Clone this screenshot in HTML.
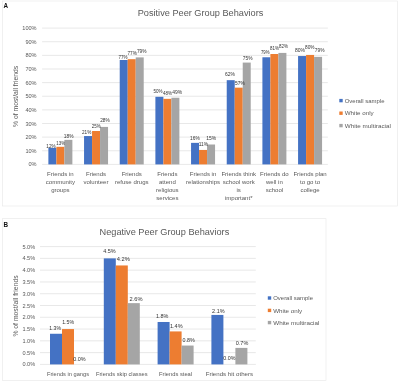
<!DOCTYPE html>
<html><head><meta charset="utf-8"><title>Peer Group Behaviors</title>
<style>
html,body{margin:0;padding:0;background:#fff;}
svg{display:block;}
text{font-family:"Liberation Sans",sans-serif;fill:#595959;}
.c{font-size:6.05px;}
.k{font-size:5.6px;}
.lg{font-size:6.25px;}
.da{font-size:5.5px;fill:#333333;}
.db{font-size:5.8px;fill:#333333;}
.yt{font-size:6.8px;}
.ti{font-size:9.2px;}
.s{font-size:4.6px;}
.pl{font-size:6.3px;font-weight:bold;fill:#111;}
</style></head><body>
<svg width="400" height="384" viewBox="0 0 400 384">
<rect width="400" height="384" fill="#fff"/>

<rect x="2.5" y="1" width="395.0" height="205" fill="#fff" stroke="#E6E6E6" stroke-width="0.6"/>
<line x1="42.1" x2="327.8" y1="164.40" y2="164.40" stroke="#D9D9D9" stroke-width="0.6"/>
<text class="k" x="36.6" y="166.45" text-anchor="end">0%</text>
<line x1="42.1" x2="327.8" y1="150.77" y2="150.77" stroke="#D9D9D9" stroke-width="0.6"/>
<text class="k" x="36.6" y="152.82" text-anchor="end">10%</text>
<line x1="42.1" x2="327.8" y1="137.14" y2="137.14" stroke="#D9D9D9" stroke-width="0.6"/>
<text class="k" x="36.6" y="139.19" text-anchor="end">20%</text>
<line x1="42.1" x2="327.8" y1="123.51" y2="123.51" stroke="#D9D9D9" stroke-width="0.6"/>
<text class="k" x="36.6" y="125.56" text-anchor="end">30%</text>
<line x1="42.1" x2="327.8" y1="109.88" y2="109.88" stroke="#D9D9D9" stroke-width="0.6"/>
<text class="k" x="36.6" y="111.93" text-anchor="end">40%</text>
<line x1="42.1" x2="327.8" y1="96.25" y2="96.25" stroke="#D9D9D9" stroke-width="0.6"/>
<text class="k" x="36.6" y="98.30" text-anchor="end">50%</text>
<line x1="42.1" x2="327.8" y1="82.62" y2="82.62" stroke="#D9D9D9" stroke-width="0.6"/>
<text class="k" x="36.6" y="84.67" text-anchor="end">60%</text>
<line x1="42.1" x2="327.8" y1="68.99" y2="68.99" stroke="#D9D9D9" stroke-width="0.6"/>
<text class="k" x="36.6" y="71.04" text-anchor="end">70%</text>
<line x1="42.1" x2="327.8" y1="55.36" y2="55.36" stroke="#D9D9D9" stroke-width="0.6"/>
<text class="k" x="36.6" y="57.41" text-anchor="end">80%</text>
<line x1="42.1" x2="327.8" y1="41.73" y2="41.73" stroke="#D9D9D9" stroke-width="0.6"/>
<text class="k" x="36.6" y="43.78" text-anchor="end">90%</text>
<line x1="42.1" x2="327.8" y1="28.10" y2="28.10" stroke="#D9D9D9" stroke-width="0.6"/>
<text class="k" x="36.6" y="30.15" text-anchor="end">100%</text>
<rect x="48.38" y="147.91" width="8" height="16.49" fill="#4472C4"/>
<rect x="56.38" y="146.82" width="8" height="17.58" fill="#ED7D31"/>
<rect x="64.38" y="139.87" width="8" height="24.53" fill="#A5A5A5"/>
<text class="c" x="60.38" y="175.50" text-anchor="middle">Friends in</text>
<text class="c" x="60.38" y="183.58" text-anchor="middle">community</text>
<text class="c" x="60.38" y="191.66" text-anchor="middle">groups</text>
<rect x="84.05" y="136.05" width="8" height="28.35" fill="#4472C4"/>
<rect x="92.05" y="131.01" width="8" height="33.39" fill="#ED7D31"/>
<rect x="100.05" y="126.92" width="8" height="37.48" fill="#A5A5A5"/>
<text class="c" x="96.05" y="175.50" text-anchor="middle">Friends</text>
<text class="c" x="96.05" y="183.58" text-anchor="middle">volunteer</text>
<rect x="119.72" y="59.99" width="8" height="104.41" fill="#4472C4"/>
<rect x="127.72" y="59.18" width="8" height="105.22" fill="#ED7D31"/>
<rect x="135.72" y="57.40" width="8" height="107.00" fill="#A5A5A5"/>
<text class="c" x="131.72" y="175.50" text-anchor="middle">Friends</text>
<text class="c" x="131.72" y="183.58" text-anchor="middle">refuse drugs</text>
<rect x="155.39" y="96.80" width="8" height="67.60" fill="#4472C4"/>
<rect x="163.39" y="98.84" width="8" height="65.56" fill="#ED7D31"/>
<rect x="171.39" y="97.75" width="8" height="66.65" fill="#A5A5A5"/>
<text class="c" x="167.39" y="175.50" text-anchor="middle">Friends</text>
<text class="c" x="167.39" y="183.58" text-anchor="middle">attend</text>
<text class="c" x="167.39" y="191.66" text-anchor="middle">religious</text>
<text class="c" x="167.39" y="199.74" text-anchor="middle">services</text>
<rect x="191.06" y="142.86" width="8" height="21.54" fill="#4472C4"/>
<rect x="199.06" y="149.95" width="8" height="14.45" fill="#ED7D31"/>
<rect x="207.06" y="144.50" width="8" height="19.90" fill="#A5A5A5"/>
<text class="c" x="203.06" y="175.50" text-anchor="middle">Friends in</text>
<text class="c" x="203.06" y="183.58" text-anchor="middle">relationships</text>
<rect x="226.73" y="80.17" width="8" height="84.23" fill="#4472C4"/>
<rect x="234.73" y="87.66" width="8" height="76.74" fill="#ED7D31"/>
<rect x="242.73" y="62.58" width="8" height="101.82" fill="#A5A5A5"/>
<text class="c" x="238.73" y="175.50" text-anchor="middle">Friends think</text>
<text class="c" x="238.73" y="183.58" text-anchor="middle">school work</text>
<text class="c" x="238.73" y="191.66" text-anchor="middle">is</text>
<text class="c" x="238.73" y="199.74" text-anchor="middle">important*</text>
<rect x="262.40" y="57.27" width="8" height="107.13" fill="#4472C4"/>
<rect x="270.40" y="54.00" width="8" height="110.40" fill="#ED7D31"/>
<rect x="278.40" y="52.91" width="8" height="111.49" fill="#A5A5A5"/>
<text class="c" x="274.40" y="175.50" text-anchor="middle">Friends do</text>
<text class="c" x="274.40" y="183.58" text-anchor="middle">well in</text>
<text class="c" x="274.40" y="191.66" text-anchor="middle">school</text>
<rect x="298.07" y="56.04" width="8" height="108.36" fill="#4472C4"/>
<rect x="306.07" y="54.95" width="8" height="109.45" fill="#ED7D31"/>
<rect x="314.07" y="56.86" width="8" height="107.54" fill="#A5A5A5"/>
<text class="c" x="310.07" y="175.50" text-anchor="middle">Friends plan</text>
<text class="c" x="310.07" y="183.58" text-anchor="middle">to go to</text>
<text class="c" x="310.07" y="191.66" text-anchor="middle">college</text>
<text class="da" x="46.30" y="147.70" textLength="9.30" lengthAdjust="spacingAndGlyphs">12%</text>
<text class="da" x="56.30" y="145.00" textLength="8.70" lengthAdjust="spacingAndGlyphs">13%</text>
<text class="da" x="63.80" y="138.10" textLength="9.70" lengthAdjust="spacingAndGlyphs">18%</text>
<text class="da" x="82.00" y="133.70" textLength="9.30" lengthAdjust="spacingAndGlyphs">21%</text>
<text class="da" x="91.70" y="128.10" textLength="8.90" lengthAdjust="spacingAndGlyphs">25%</text>
<text class="da" x="100.20" y="121.70" textLength="9.50" lengthAdjust="spacingAndGlyphs">28%</text>
<text class="da" x="118.50" y="59.10" textLength="9.00" lengthAdjust="spacingAndGlyphs">77%</text>
<text class="da" x="127.50" y="55.40" textLength="9.40" lengthAdjust="spacingAndGlyphs">77%</text>
<text class="da" x="136.90" y="52.90" textLength="9.60" lengthAdjust="spacingAndGlyphs">79%</text>
<text class="da" x="153.50" y="93.20" textLength="9.00" lengthAdjust="spacingAndGlyphs">50%</text>
<text class="da s" x="162.90" y="94.50" textLength="9.00" lengthAdjust="spacingAndGlyphs">48%</text>
<text class="da" x="172.30" y="93.50" textLength="9.90" lengthAdjust="spacingAndGlyphs">49%</text>
<text class="da" x="190.00" y="139.50" textLength="9.70" lengthAdjust="spacingAndGlyphs">16%</text>
<text class="da" x="198.80" y="146.40" textLength="9.30" lengthAdjust="spacingAndGlyphs">11%</text>
<text class="da" x="206.30" y="140.10" textLength="9.90" lengthAdjust="spacingAndGlyphs">15%</text>
<text class="da" x="225.00" y="75.90" textLength="10.00" lengthAdjust="spacingAndGlyphs">62%</text>
<text class="da" x="235.00" y="84.60" textLength="9.70" lengthAdjust="spacingAndGlyphs">57%</text>
<text class="da" x="242.80" y="59.90" textLength="9.70" lengthAdjust="spacingAndGlyphs">75%</text>
<text class="da" x="261.00" y="54.40" textLength="8.50" lengthAdjust="spacingAndGlyphs">79%</text>
<text class="da" x="270.00" y="49.60" textLength="9.00" lengthAdjust="spacingAndGlyphs">81%</text>
<text class="da" x="279.00" y="47.80" textLength="9.00" lengthAdjust="spacingAndGlyphs">82%</text>
<text class="da" x="295.00" y="52.00" textLength="10.00" lengthAdjust="spacingAndGlyphs">80%</text>
<text class="da" x="305.00" y="48.90" textLength="9.50" lengthAdjust="spacingAndGlyphs">80%</text>
<text class="da" x="314.80" y="52.00" textLength="9.70" lengthAdjust="spacingAndGlyphs">79%</text>
<text class="ti" x="200.5" y="16" text-anchor="middle">Positive Peer Group Behaviors</text>
<rect x="339.3" y="98.90" width="3.4" height="3.4" fill="#4472C4"/>
<text class="lg" x="344.7" y="102.80" textLength="39.8" lengthAdjust="spacingAndGlyphs">Overall sample</text>
<rect x="339.3" y="111.50" width="3.4" height="3.4" fill="#ED7D31"/>
<text class="lg" x="344.7" y="115.40" textLength="29" lengthAdjust="spacingAndGlyphs">White only</text>
<rect x="339.3" y="123.90" width="3.4" height="3.4" fill="#A5A5A5"/>
<text class="lg" x="344.7" y="127.80" textLength="46.2" lengthAdjust="spacingAndGlyphs">White multiracial</text>
<text class="yt" transform="translate(18.3,96.4) rotate(-90)" text-anchor="middle">% of most/all friends</text>
<text class="pl" x="3.5" y="7.7">A</text>
<rect x="2.5" y="218.7" width="323.5" height="161.90000000000003" fill="#fff" stroke="#E6E6E6" stroke-width="0.6"/>
<line x1="40" x2="255.8" y1="364.40" y2="364.40" stroke="#D9D9D9" stroke-width="0.6"/>
<text class="k" x="35.2" y="366.45" text-anchor="end">0.0%</text>
<line x1="40" x2="255.8" y1="352.62" y2="352.62" stroke="#D9D9D9" stroke-width="0.6"/>
<text class="k" x="35.2" y="354.67" text-anchor="end">0.5%</text>
<line x1="40" x2="255.8" y1="340.84" y2="340.84" stroke="#D9D9D9" stroke-width="0.6"/>
<text class="k" x="35.2" y="342.89" text-anchor="end">1.0%</text>
<line x1="40" x2="255.8" y1="329.06" y2="329.06" stroke="#D9D9D9" stroke-width="0.6"/>
<text class="k" x="35.2" y="331.11" text-anchor="end">1.5%</text>
<line x1="40" x2="255.8" y1="317.28" y2="317.28" stroke="#D9D9D9" stroke-width="0.6"/>
<text class="k" x="35.2" y="319.33" text-anchor="end">2.0%</text>
<line x1="40" x2="255.8" y1="305.50" y2="305.50" stroke="#D9D9D9" stroke-width="0.6"/>
<text class="k" x="35.2" y="307.55" text-anchor="end">2.5%</text>
<line x1="40" x2="255.8" y1="293.72" y2="293.72" stroke="#D9D9D9" stroke-width="0.6"/>
<text class="k" x="35.2" y="295.77" text-anchor="end">3.0%</text>
<line x1="40" x2="255.8" y1="281.94" y2="281.94" stroke="#D9D9D9" stroke-width="0.6"/>
<text class="k" x="35.2" y="283.99" text-anchor="end">3.5%</text>
<line x1="40" x2="255.8" y1="270.16" y2="270.16" stroke="#D9D9D9" stroke-width="0.6"/>
<text class="k" x="35.2" y="272.21" text-anchor="end">4.0%</text>
<line x1="40" x2="255.8" y1="258.38" y2="258.38" stroke="#D9D9D9" stroke-width="0.6"/>
<text class="k" x="35.2" y="260.43" text-anchor="end">4.5%</text>
<line x1="40" x2="255.8" y1="246.60" y2="246.60" stroke="#D9D9D9" stroke-width="0.6"/>
<text class="k" x="35.2" y="248.65" text-anchor="end">5.0%</text>
<rect x="50.00" y="333.77" width="12" height="30.63" fill="#4472C4"/>
<rect x="62.00" y="329.06" width="12" height="35.34" fill="#ED7D31"/>
<text class="c" x="47.00" y="376.00" textLength="42" lengthAdjust="spacingAndGlyphs">Friends in gangs</text>
<rect x="103.80" y="258.38" width="12" height="106.02" fill="#4472C4"/>
<rect x="115.80" y="265.45" width="12" height="98.95" fill="#ED7D31"/>
<rect x="127.80" y="303.14" width="12" height="61.26" fill="#A5A5A5"/>
<text class="c" x="95.95" y="376.00" textLength="51.7" lengthAdjust="spacingAndGlyphs">Friends skip classes</text>
<rect x="157.60" y="321.99" width="12" height="42.41" fill="#4472C4"/>
<rect x="169.60" y="331.42" width="12" height="32.98" fill="#ED7D31"/>
<rect x="181.60" y="345.55" width="12" height="18.85" fill="#A5A5A5"/>
<text class="c" x="159.10" y="376.00" textLength="33" lengthAdjust="spacingAndGlyphs">Friends steal</text>
<rect x="211.40" y="314.92" width="12" height="49.48" fill="#4472C4"/>
<rect x="235.40" y="347.91" width="12" height="16.49" fill="#A5A5A5"/>
<text class="c" x="205.70" y="376.00" textLength="47.4" lengthAdjust="spacingAndGlyphs">Friends hit others</text>
<text class="db" x="49.30" y="330.30" textLength="11.70" lengthAdjust="spacingAndGlyphs">1.3%</text>
<text class="db" x="62.20" y="324.30" textLength="12.00" lengthAdjust="spacingAndGlyphs">1.5%</text>
<text class="db" x="73.30" y="360.50" textLength="12.40" lengthAdjust="spacingAndGlyphs">0.0%</text>
<text class="db" x="103.20" y="253.30" textLength="12.50" lengthAdjust="spacingAndGlyphs">4.5%</text>
<text class="db" x="116.70" y="261.20" textLength="13.10" lengthAdjust="spacingAndGlyphs">4.2%</text>
<text class="db" x="129.50" y="300.80" textLength="13.00" lengthAdjust="spacingAndGlyphs">2.6%</text>
<text class="db" x="156.00" y="317.50" textLength="12.40" lengthAdjust="spacingAndGlyphs">1.8%</text>
<text class="db" x="170.00" y="328.30" textLength="12.60" lengthAdjust="spacingAndGlyphs">1.4%</text>
<text class="db" x="182.60" y="341.80" textLength="12.20" lengthAdjust="spacingAndGlyphs">0.8%</text>
<text class="db" x="212.10" y="312.90" textLength="12.50" lengthAdjust="spacingAndGlyphs">2.1%</text>
<text class="db" x="223.30" y="360.00" textLength="12.10" lengthAdjust="spacingAndGlyphs">0.0%</text>
<text class="db" x="235.80" y="345.40" textLength="12.50" lengthAdjust="spacingAndGlyphs">0.7%</text>
<text class="ti" x="164.4" y="235.2" text-anchor="middle">Negative Peer Group Behaviors</text>
<rect x="267.8" y="296.30" width="3.4" height="3.4" fill="#4472C4"/>
<text class="lg" x="273.2" y="300.20" textLength="39.8" lengthAdjust="spacingAndGlyphs">Overall sample</text>
<rect x="267.8" y="308.70" width="3.4" height="3.4" fill="#ED7D31"/>
<text class="lg" x="273.2" y="312.60" textLength="29" lengthAdjust="spacingAndGlyphs">White only</text>
<rect x="267.8" y="320.90" width="3.4" height="3.4" fill="#A5A5A5"/>
<text class="lg" x="273.2" y="324.80" textLength="46.2" lengthAdjust="spacingAndGlyphs">White multiracial</text>
<text class="yt" transform="translate(18.4,306) rotate(-90)" text-anchor="middle">% of most/all friends</text>
<text class="pl" x="3.5" y="227">B</text>
</svg></body></html>
